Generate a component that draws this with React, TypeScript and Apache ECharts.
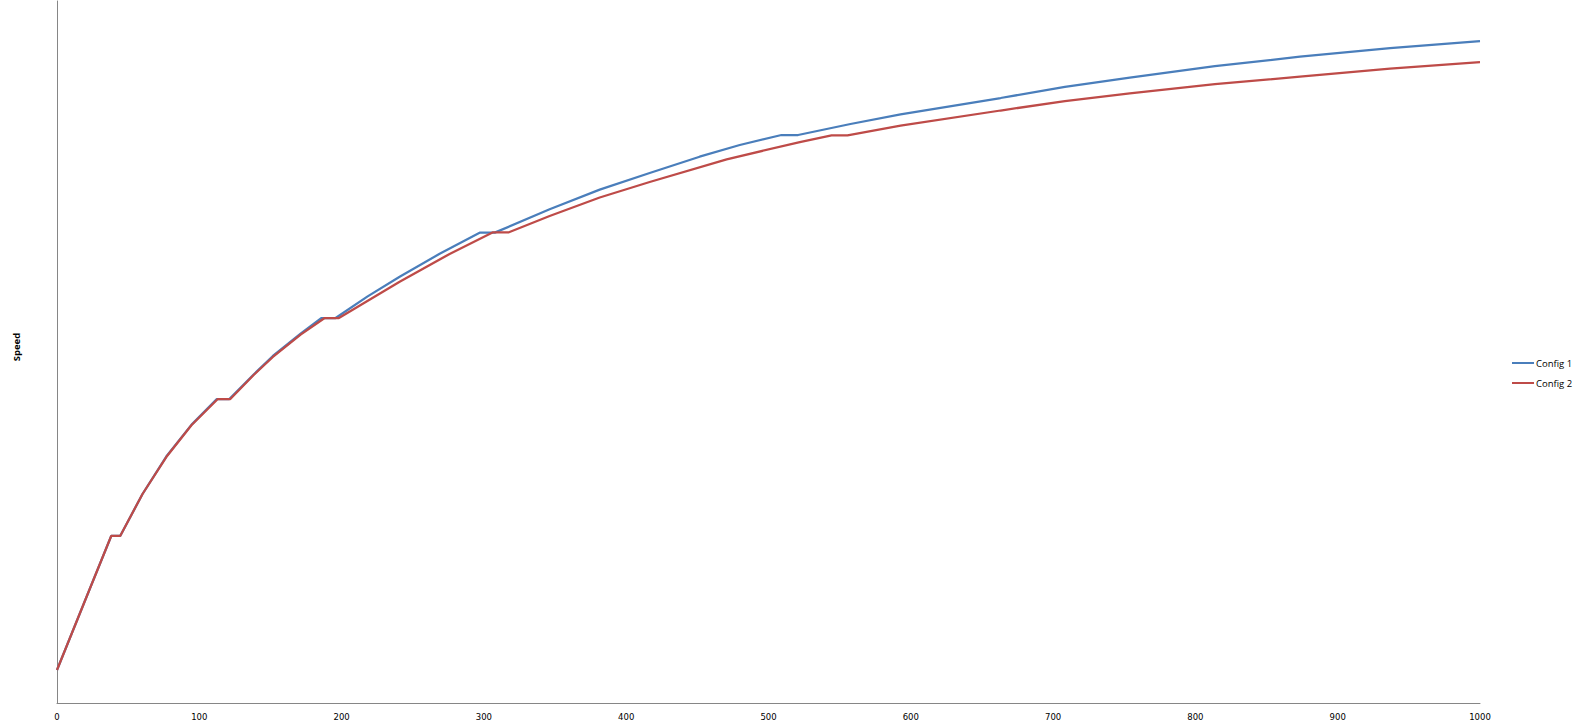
import React, { useEffect, useRef } from "react";
import * as echarts from "echarts";

const xTicks = [0, 100, 200, 300, 400, 500, 600, 700, 800, 900, 1000];

const config1X = [0, 19.3, 38.1, 44.4, 60.1, 76.8, 94.6, 112.3, 121.1, 138.2, 151.7, 171.2, 185.7, 195.8, 218.3, 240.8, 268.9, 297.0, 307.6, 346.2, 381.4, 416.5, 451.6, 479.8, 509.1, 520.8, 557.6, 592.8, 663.1, 708.3, 753.9, 813.7, 873.5, 936.8, 1000];
const config1Y = [4.70, 14.39, 23.79, 23.79, 29.77, 35.11, 39.65, 43.30, 43.30, 46.80, 49.43, 52.60, 54.84, 54.84, 57.92, 60.73, 63.99, 67.00, 67.00, 70.33, 73.13, 75.50, 77.82, 79.49, 80.91, 80.91, 82.48, 83.86, 86.18, 87.77, 89.07, 90.71, 92.07, 93.30, 94.30];

const config2X = [0, 19.3, 38.1, 44.4, 60.1, 76.8, 94.6, 113.0, 121.8, 138.2, 151.7, 171.2, 188.1, 198.1, 240.8, 275.9, 306.4, 317.6, 346.2, 381.4, 416.5, 470.6, 522.0, 544.3, 555.5, 592.8, 663.1, 708.3, 753.9, 813.7, 873.5, 936.8, 1000];
const config2Y = [4.70, 14.39, 23.79, 23.79, 29.77, 35.04, 39.60, 43.30, 43.30, 46.72, 49.29, 52.48, 54.84, 54.84, 60.01, 63.97, 67.05, 67.05, 69.37, 72.01, 74.22, 77.45, 79.91, 80.87, 80.87, 82.24, 84.40, 85.74, 86.85, 88.15, 89.22, 90.35, 91.31];

const seriesNames = ["Config 1", "Config 2"];
const seriesColors = ["#4a7ebb", "#be4b48"];

export default function App() {
  const ref = useRef<HTMLDivElement>(null);
  useEffect(() => {
    if (!ref.current) return;
    const chart = echarts.init(ref.current, null, { renderer: "svg" });
    const pairs = (xs: number[], ys: number[]) => xs.map((x, i) => [x, ys[i]]);
    chart.setOption({
      animation: false,
      backgroundColor: "#ffffff",
      grid: { left: 57, right: 95, top: 1, bottom: 25 },
      xAxis: {
        type: "value",
        min: xTicks[0],
        max: xTicks[xTicks.length - 1],
        interval: 100,
        axisLine: { show: true, lineStyle: { color: "#868686", width: 1 } },
        axisTick: { show: false },
        splitLine: { show: false },
        axisLabel: {
          fontFamily: "DejaVu Sans",
          fontSize: 8.5,
          color: "#000000",
          margin: 9,
          formatter: (v: number) => String(v),
        },
      },
      yAxis: {
        type: "value",
        min: 0,
        max: 100,
        axisLine: { show: true, lineStyle: { color: "#868686", width: 1 } },
        axisTick: { show: false },
        axisLabel: { show: false },
        splitLine: { show: false },
      },
      legend: {
        orient: "vertical",
        left: 1507,
        top: 351,
        icon: "rect",
        itemWidth: 22,
        itemHeight: 2,
        itemGap: 6,
        data: seriesNames,
        textStyle: {
          fontFamily: "Open Sans",
          fontSize: 9.5,
          lineHeight: 14,
          color: "#000000",
          padding: [0, 0, 0, -3],
        },
      },
      graphic: [
        {
          type: "text",
          x: 16,
          y: 347,
          rotation: Math.PI / 2,
          style: {
            text: "Speed",
            fontFamily: "Open Sans",
            fontWeight: "bold",
            fontSize: 9.5,
            fill: "#000000",
            textAlign: "center",
            textVerticalAlign: "middle",
          },
        },
      ],
      series: [
        {
          name: seriesNames[0],
          type: "line",
          data: pairs(config1X, config1Y),
          symbol: "none",
          color: seriesColors[0],
          lineStyle: { width: 2.25, color: seriesColors[0] },
          z: 2,
        },
        {
          name: seriesNames[1],
          type: "line",
          data: pairs(config2X, config2Y),
          symbol: "none",
          color: seriesColors[1],
          lineStyle: { width: 2.25, color: seriesColors[1] },
          z: 3,
        },
      ],
    });
    return () => chart.dispose();
  }, []);
  return (
    <div
      ref={ref}
      style={{ position: "absolute", left: 0, top: 0, width: 1575, height: 728 }}
    />
  );
}
